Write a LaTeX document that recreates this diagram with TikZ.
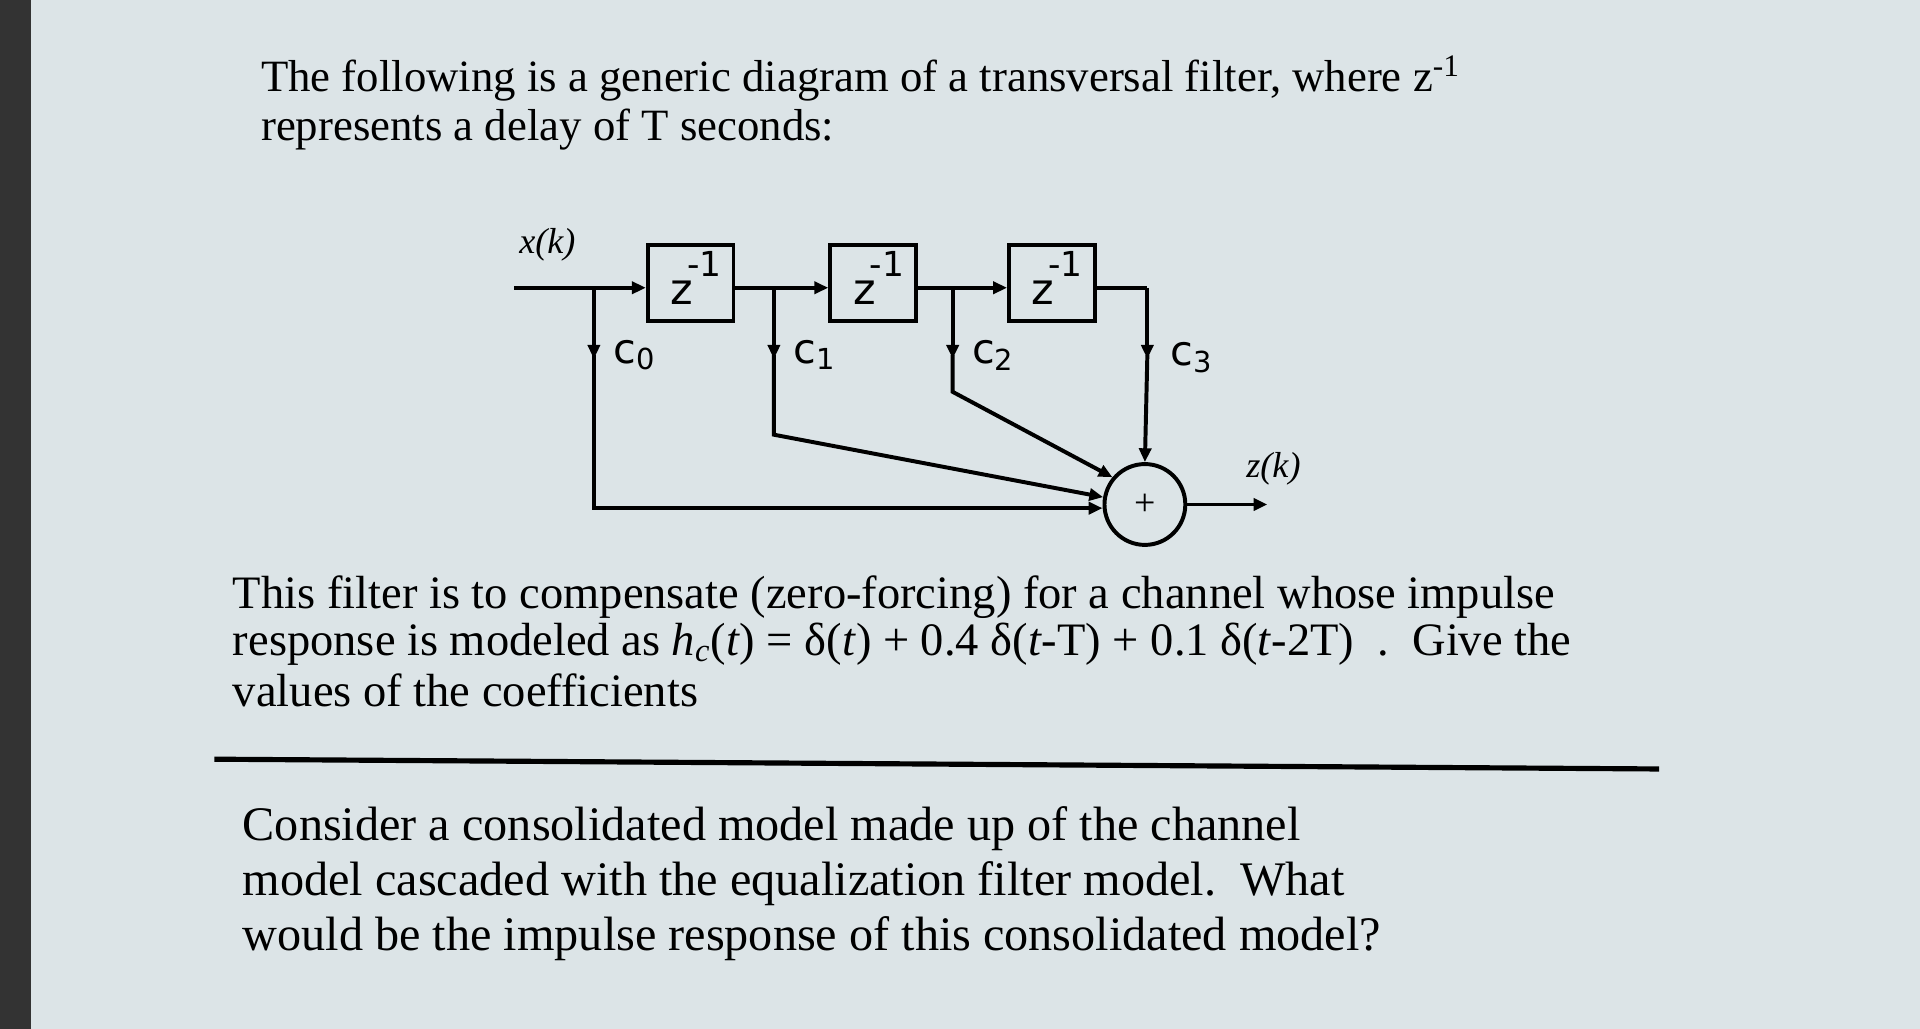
\documentclass[tikz,border=0pt]{standalone}
\usepackage{fontspec}
\setmainfont{Liberation Serif}
\setsansfont{DejaVu Sans}
\usetikzlibrary{arrows.meta}
\begin{document}
\begin{tikzpicture}[x=0.025cm,y=-0.025cm,
  sig/.style={line width=2.3pt},
  arr/.style={sig,-{Triangle[length=8pt,width=7pt]}},
  dbox/.style={draw,line width=2.3pt,minimum width=1.75cm,minimum height=1.55cm,inner sep=0pt},
  txt/.style={anchor=base west,inner sep=0pt,font=\fontsize{27}{27}\selectfont},
  coef/.style={font=\sffamily\fontsize{24}{24}\selectfont,inner sep=0pt}]
\fill[gray!22!white!95!cyan] (0,0) rectangle (1568,840);
\fill[black!80] (0,0) rectangle (25,840);
\useasboundingbox (0,0) rectangle (1568,840);
\node[txt,font=\fontsize{26}{26}\selectfont] (t1) at (213,75) {The following is a generic diagram of a transversal filter, where z\textsuperscript{-1}};
\node[txt,font=\fontsize{26}{26}\selectfont] (t2) at (213,115) {represents a delay of T seconds:};
% diagram
\node[dbox] (b1) at (564,231) {};
\node[dbox] (b2) at (713,231) {};
\node[dbox] (b3) at (859,231) {};
\foreach \b in {b1,b2,b3}{\node[font=\sffamily\fontsize{25}{25}\selectfont] at ([xshift=-5pt,yshift=-6pt]\b.center) {z}; \node[font=\sffamily\fontsize{20}{20}\selectfont] at ([xshift=8pt,yshift=11pt]\b.center) {-1};}
\node[font=\itshape\fontsize{21}{21}\selectfont] (xk) at (447,200) {x(k)};
\coordinate (in) at (420,235);
\node[draw,circle,line width=2.3pt,minimum size=1.65cm,inner sep=0pt] (sum) at (935,412) {};
\node[font=\fontsize{22}{22}\selectfont] at (sum) {+};
\draw[arr] (in) -- (in -| b1.west);
\draw[arr] (b1.east |- in) -- (b2.west |- in);
\draw[arr] (b2.east |- in) -- (b3.west |- in);
\coordinate (p0) at (485,235); \coordinate (p1) at (632,235); \coordinate (p2) at (778,235); \coordinate (p3) at (937,235);
\foreach \p in {p0,p1,p2}{\draw[arr] (\p) -- ++(0,58);}
\draw[sig] (b3.east |- in) -- (p3);
\draw[arr] (p3) -- ++(0,58);
\draw[arr] (485,290) -- (485,415) -- (sum.west |- 0,415);
\draw[arr] (632,290) -- (632,355) -- (sum.170);
\draw[arr] (778,290) -- (778,320) -- (sum.140);
\draw[arr] (937,290) -- (sum.north);
\draw[arr] (sum.east) -- (1035,412);
\node[font=\itshape\fontsize{21}{21}\selectfont] (zk) at (1040,383) {z(k)};
\node[coef] (c0) at (518,290) {c\textsubscript{0}};
\node[coef] (c1) at (665,290) {c\textsubscript{1}};
\node[coef] (c2) at (811,290) {c\textsubscript{2}};
\node[coef] (c3) at (973,292) {c\textsubscript{3}};
% paragraph
\node[txt] (t3) at (190,497) {This filter is to compensate (zero-forcing) for a channel whose impulse};
\node[txt] (t4) at (190,535) {response is modeled as \textit{h}\textsubscript{\textit{c}}(\textit{t}) = δ(\textit{t}) + 0.4 δ(\textit{t}-T) + 0.1 δ(\textit{t}-2T)~~.~~Give the};
\node[txt] (t5) at (190,577) {values of the coefficients};
\draw[line width=3pt] (175,620) -- (1355,628);
\node[txt,font=\fontsize{28}{28}\selectfont] (t6) at (198,686) {Consider a consolidated model made up of the channel};
\node[txt,font=\fontsize{28}{28}\selectfont] (t7) at (198,731) {model cascaded with the equalization filter model.~~What};
\node[txt,font=\fontsize{28}{28}\selectfont] (t8) at (198,776) {would be the impulse response of this consolidated model?};
\end{tikzpicture}
\end{document}
